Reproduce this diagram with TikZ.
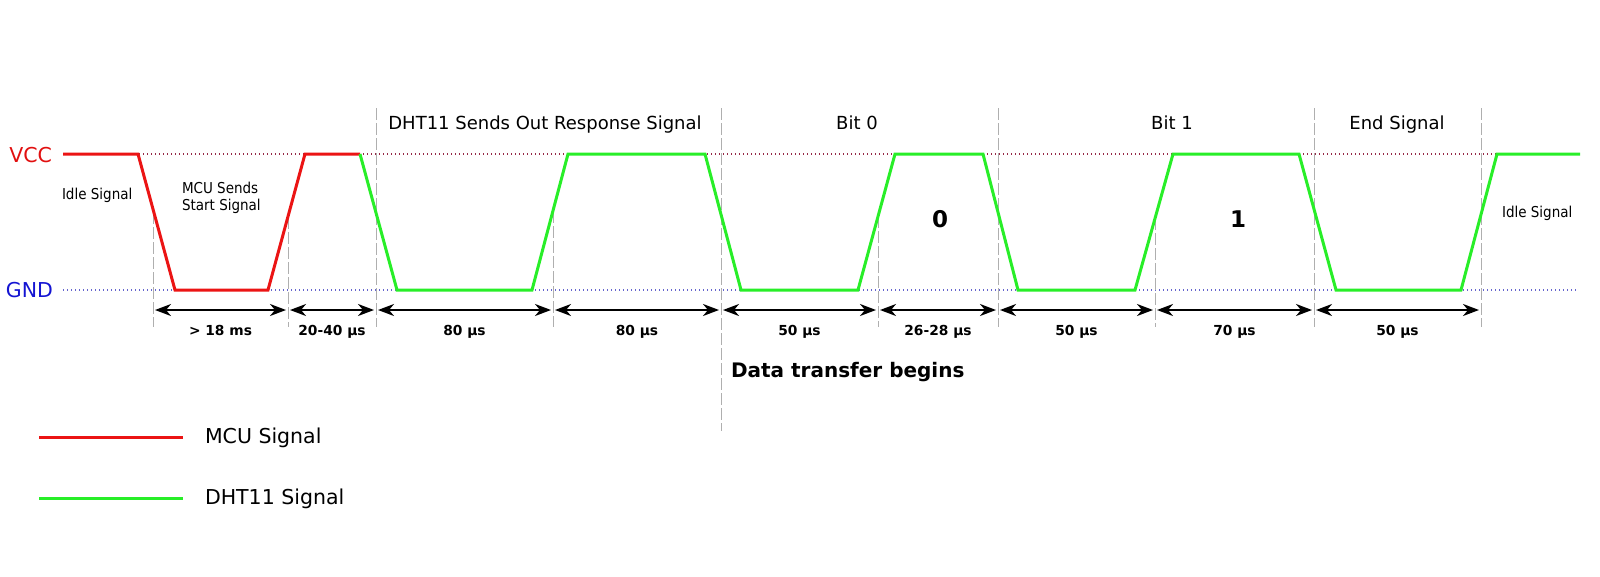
\documentclass[tikz,border=0pt]{standalone}
\usepackage{fontspec}
\setmainfont{DejaVu Sans}
\newfontfamily\narrowfont[FakeStretch=0.9]{DejaVu Sans}
\usetikzlibrary{arrows.meta,calc}
\definecolor{sigred}{RGB}{235,20,20}
\definecolor{siggreen}{RGB}{40,238,40}
\definecolor{vccdot}{RGB}{150,40,70}
\definecolor{gnddot}{RGB}{100,100,205}
\definecolor{vcctext}{RGB}{225,15,15}
\definecolor{gndtext}{RGB}{20,20,210}
\definecolor{guidegray}{RGB}{175,175,175}
\tikzset{
  sigline/.style={line width=3pt,line join=miter},
  mcusig/.style={sigline,draw=sigred},
  dhtsig/.style={sigline,draw=siggreen},
  vccline/.style={draw=vccdot,line width=1.3pt,dash pattern=on 1.3pt off 2.7pt},
  gndline/.style={draw=gnddot,line width=1.3pt,dash pattern=on 1.3pt off 2.7pt},
  guide/.style={draw=guidegray,line width=1pt,dash pattern=on 12pt off 3pt},
  dimarrow/.style={draw=black,line width=2pt,{Stealth[length=16pt,width=12pt,inset=5pt]}-{Stealth[length=16pt,width=12pt,inset=5pt]},shorten <=2pt,shorten >=2pt},
  txt/.style={inner sep=0pt,outer sep=0pt},
  head/.style={txt,anchor=base,font=\fontsize{18}{22}\selectfont},
  durlab/.style={txt,anchor=base,font=\bfseries\fontsize{13.8}{16}\selectfont},
  small/.style={txt,font=\narrowfont\fontsize{15}{17}\selectfont},
  level/.style={txt,anchor=base east,font=\fontsize{20.5}{24}\selectfont},
  bitval/.style={txt,anchor=base,font=\bfseries\fontsize{23}{26}\selectfont},
  legtext/.style={txt,anchor=base west,font=\fontsize{20.5}{24}\selectfont},
  leg/.style={line width=3pt}
}
\begin{document}
\begin{tikzpicture}[x=1pt,y=-1pt]
\useasboundingbox (0,0) rectangle (1600,576);
% level reference lines
\coordinate (vccL) at (63,154);
\coordinate (vccR) at (1580,154);
\coordinate (gndL) at (63,290);
\coordinate (gndR) at (1577,290);
\draw[vccline] (vccL) -- (vccR);
\draw[gndline] (gndL) -- (gndR);
\node[level,text=vcctext] (vcc) at (52,162) {VCC};
\node[level,text=gndtext] (gnd) at (53,297.5) {GND};
% vertical guides
\foreach \n/\x/\t/\b in {v1/153/212/327, v2/288/217/327, v3/376/108/327, v4/553/211/327, v5/721/108/431, v6/878/216/327, v7/998/108/327, v8/1155/218/327, v9/1314/108/327, v10/1481/108/327}{
  \coordinate (\n t) at (\x,\t);
  \coordinate (\n b) at (\x,\b);
  \coordinate (\n a) at (\x,310);
  \draw[guide] (\n t) -- (\n b);
}
% MCU signal
\draw[mcusig] (63,154) -- (138,154) -- (175,290) -- (268,290) -- (305,154) -- (360,154);
% DHT11 signal
\draw[dhtsig] (360,154) -- (397,290) -- (532,290) -- (568,154) -- (705,154) -- (741,290)
  -- (858,290) -- (895,154) -- (983,154) -- (1018,290) -- (1135,290) -- (1173,154)
  -- (1299,154) -- (1336,290) -- (1461,290) -- (1497,154) -- (1580,154);
% duration arrows and labels
\foreach \a/\b/\l in {v1/v2/{> 18 ms}, v2/v3/{20-40 µs}, v3/v4/{80 µs}, v4/v5/{80 µs}, v5/v6/{50 µs}, v6/v7/{26-28 µs}, v7/v8/{50 µs}, v8/v9/{70 µs}, v9/v10/{50 µs}}{
  \draw[dimarrow] (\a a) -- (\b a);
  \node[durlab] (lab\a) at ($(\a a)!0.5!(\b a)+(0,25)$) {\l};
}
% headings
\node[head] (hresp) at (545,129) {DHT11 Sends Out Response Signal};
\node[head] (hbit0) at (857,129) {Bit 0};
\node[head] (hbit1) at (1172,129) {Bit 1};
\node[head] (hend) at (1397,129) {End Signal};
% inner texts
\node[small,anchor=base west] (idleL) at (62,199.5) {Idle Signal};
\node[small,anchor=west,align=left] (mcusend) at (182,198) {MCU Sends\\Start Signal};
\node[small,anchor=base west] (idleR) at (1502,217.5) {Idle Signal};
\node[bitval] (b0) at (940,227) {0};
\node[bitval] (b1) at (1238,227) {1};
\node[txt,anchor=base west,font=\bfseries\fontsize{20}{24}\selectfont] (dtb) at (731,377) {Data transfer begins};
% legend
\coordinate (lr1) at (39,437);
\coordinate (lr2) at (183,437);
\coordinate (lg1) at (39,498);
\coordinate (lg2) at (183,498);
\draw[leg,draw=sigred] (lr1) -- (lr2);
\draw[leg,draw=siggreen] (lg1) -- (lg2);
\node[legtext] (legmcu) at (205,443) {MCU Signal};
\node[legtext] (legdht) at (205,504) {DHT11 Signal};
\end{tikzpicture}
\end{document}
